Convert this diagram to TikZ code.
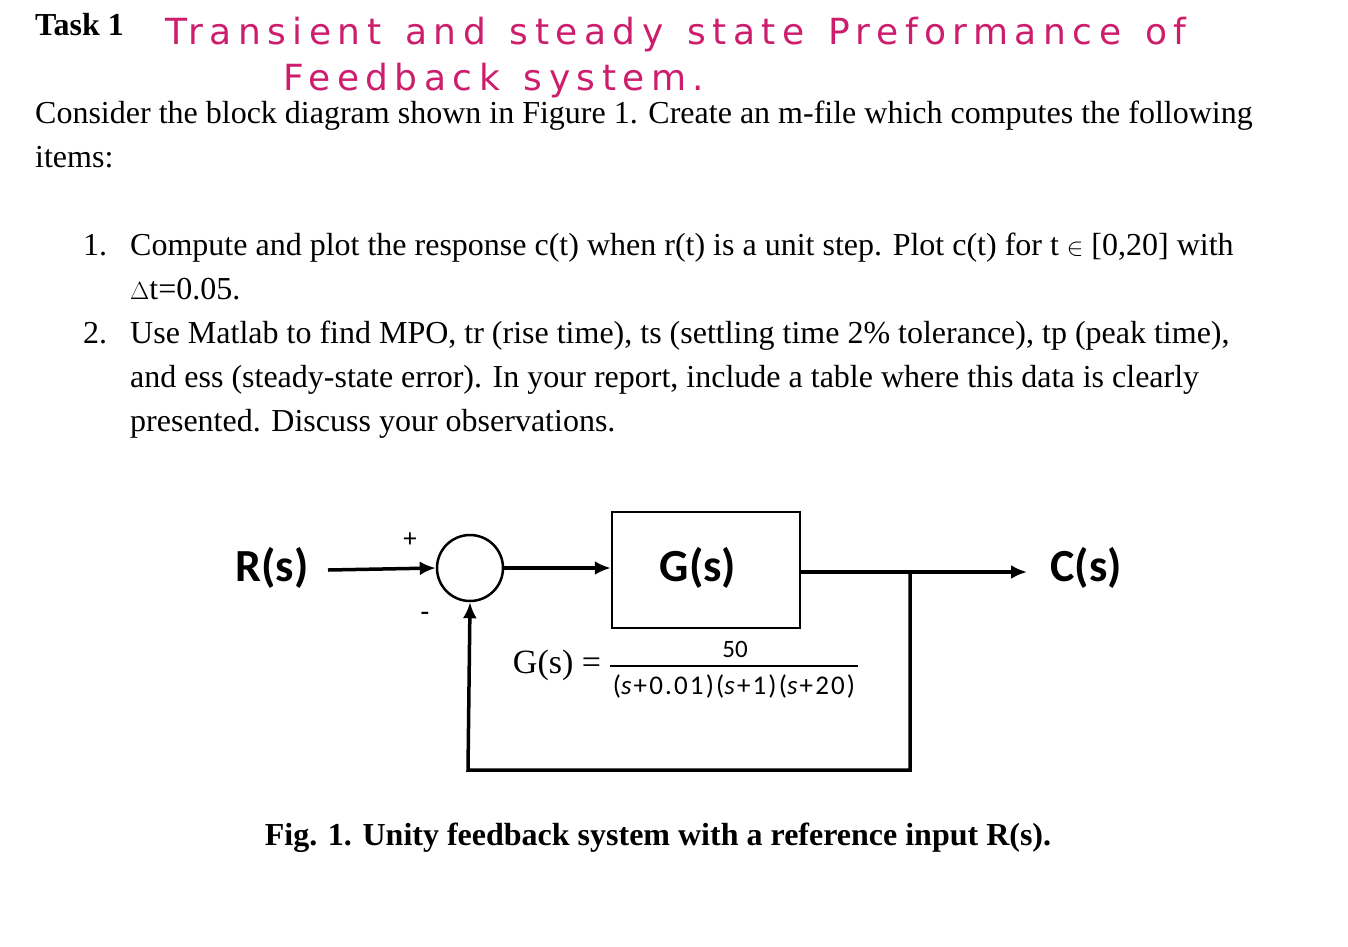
\documentclass[tikz,border=0pt]{standalone}
\usepackage{fontspec}
\setmainfont{Liberation Serif}
\newfontfamily\carl{Carlito}
\newfontfamily\hand{DejaVu Sans}
\usetikzlibrary{arrows.meta}
\definecolor{ink}{RGB}{205,30,110}
\begin{document}
\begin{tikzpicture}[x=1pt,y=-1pt,
  body/.style={anchor=base west,inner sep=0,font=\fontsize{32}{44}\selectfont},
  lbl/.style={inner sep=0,font=\carl\bfseries\fontsize{46}{46}\selectfont},
  hw/.style={anchor=base west,inner sep=0,text=ink,font=\hand\fontsize{36}{36}\selectfont\addfontfeatures{LetterSpace=18}},
  wire/.style={line width=3.5pt},
  arr/.style={wire,-{Latex[length=16pt,width=14pt]}}]
\useasboundingbox (0,0) rectangle (1348,946);
\node[body,font=\bfseries\fontsize{32}{44}\selectfont] (task) at (35,35) {Task 1};
\node[hw] (h1) at (165,44) {Transient\, and\, steady\, state\, Preformance\, of};
\node[hw] (h2) at (283,90) {Feedback\, system.};
\node[body] (p1) at (35,123) {Consider the block diagram shown in Figure 1. Create an m-file which computes the following};
\node[body] (p2) at (35,167) {items:};
\node[body] (n1) at (83,255) {1.};
\node[body] (l1) at (130,255) {Compute and plot the response c(t) when r(t) is a unit step. Plot c(t) for t $\in$ [0,20] with};
\node[body] (l2) at (130,299) {$\Delta$t=0.05.};
\node[body] (n2) at (83,343) {2.};
\node[body] (l3) at (130,343) {Use Matlab to find MPO, tr (rise time), ts (settling time 2\% tolerance), tp (peak time),};
\node[body] (l4) at (130,387) {and ess (steady-state error). In your report, include a table where this data is clearly};
\node[body] (l5) at (130,431) {presented. Discuss your observations.};

\node[lbl] (R) at (272,568) {R(s)};
\node[circle,draw,line width=2.5pt,minimum size=66pt,inner sep=0] (sum) at (470,568) {};
\node[draw,line width=2.5pt,minimum width=188pt,minimum height=116pt,inner sep=0] (G) at (706,570) {};
\node[lbl] (Gt) at (698,568) {G(s)};
\node[lbl] (C) at (1086,568) {C(s)};
\node[inner sep=0,font=\bfseries\fontsize{26}{26}\selectfont] (plus) at (410,540) {+};
\node[inner sep=0,font=\bfseries\fontsize{26}{26}\selectfont] (minus) at (425,616) {-};
\coordinate (br) at (910,572);
\coordinate (bb) at (910,770);
\coordinate (bl) at (468,770);
\coordinate (Rend) at (328,570);
\coordinate (Cend) at (1027,572);
\draw[arr] (Rend) -- (sum.west);
\draw[arr] (sum.east) -- (G.west |- sum.east);
\draw[arr] (G.east |- br) -- (Cend);
\draw[arr] (br) -- (bb) -- (bl) -- (sum.south);

\node[inner sep=0,font=\fontsize{34}{34}\selectfont] (geq) at (557,665) {G(s) =};
\draw[line width=2pt] (610,666) coordinate (fl) -- (858,666) coordinate (fr);
\node[inner sep=0,font=\carl\fontsize{25}{25}\selectfont] (num) at (735,649) {50};
\node[inner sep=0,font=\carl\fontsize{27}{27}\selectfont\addfontfeatures{LetterSpace=8}] (den) at (734,686) {(\textit{s}+0.01)(\textit{s}+1)(\textit{s}+20)};

\node[inner sep=0,font=\bfseries\fontsize{32}{44}\selectfont] (cap) at (658,838) {Fig. 1. Unity feedback system with a reference input R(s).};
\end{tikzpicture}
\end{document}
